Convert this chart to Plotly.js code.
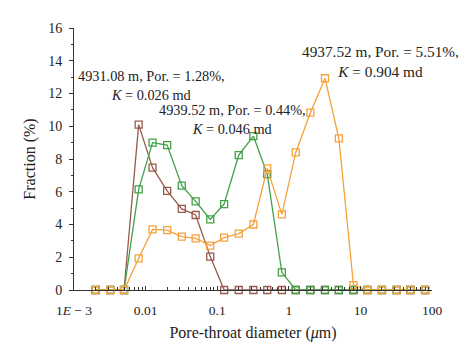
<!DOCTYPE html>
<html><head><meta charset="utf-8">
<script src="https://cdn.plot.ly/plotly-3.0.1.min.js"></script>
<style>html,body{margin:0;padding:0;background:#fff}#chart{width:474px;height:363px}</style>
</head><body><div id="chart"></div>
<script>
// Pore-throat diameter (µm)
const diameters = [0.002, 0.0032, 0.005, 0.008, 0.0125, 0.02, 0.032, 0.05, 0.08, 0.125, 0.2, 0.32, 0.5, 0.8, 1.25, 2, 3.2, 5, 8, 12.5, 20, 32, 50, 80];
// Fraction (%)
const frac4931 = [0, 0, 0, 10.1, 7.47, 6.05, 4.95, 4.58, 2.04, 0, 0, 0, 0, 0, 0, 0, 0, 0, 0, 0, 0, 0, 0, 0];
const frac4939 = [0, 0, 0, 6.15, 9.0, 8.85, 6.37, 5.41, 4.31, 5.25, 8.24, 9.4, 7.08, 1.08, 0, 0, 0, 0, 0, 0, 0, 0, 0, 0];
const frac4937 = [0, 0, 0, 1.93, 3.7, 3.66, 3.26, 3.15, 2.71, 3.2, 3.44, 4.0, 7.43, 4.62, 8.4, 10.83, 12.93, 9.26, 0.3, 0, 0, 0, 0, 0];
const xTickVals = [0.001, 0.01, 0.1, 1, 10, 100];
const xTickText = ['1<i>E</i> − 3', '0.01', '0.1', '1', '10', '100'];
const labels = [
  '4931.08 m, Por. = 1.28%,<br><i>K</i> = 0.026 md',
  '4939.52 m, Por. = 0.44%,<br><i>K</i> = 0.046 md',
  '4937.52 m, Por. = 5.51%,<br><i>K</i> = 0.904 md'
];

const serif = 'Liberation Serif, Times New Roman, serif';
function tr(y, color) {
  return {x: diameters, y: y, type: 'scatter', mode: 'lines+markers',
    line: {color: color, width: 1.3},
    marker: {symbol: 'square-open', size: 7, color: color, line: {width: 1.3}},
    cliponaxis: false, showlegend: false};
}
const data = [tr(frac4931, '#965b4c'), tr(frac4939, '#42a047'), tr(frac4937, '#f6a23c')];

const layout = {
  width: 474, height: 363,
  margin: {l: 74, r: 42, t: 28, b: 73},
  paper_bgcolor: '#fff', plot_bgcolor: '#fff',
  font: {family: serif, size: 13, color: '#222'},
  xaxis: {type: 'log', range: [-3, 2], tickvals: xTickVals, ticktext: xTickText,
    tickfont: {size: 13.5},
    ticks: 'inside', ticklen: 4, tickcolor: '#333', showline: true, linecolor: '#333', linewidth: 1,
    showgrid: false, zeroline: false, ticklabelstandoff: 8,
    minor: {ticks: 'inside', ticklen: 3, dtick: 'D1', tickcolor: '#333', showgrid: false},
    title: {text: 'Pore-throat diameter (<i>μ</i>m)', font: {size: 16}, standoff: 9}},
  yaxis: {range: [0, 16], dtick: 2, ticks: 'outside', ticklen: 4, tickcolor: '#333',
    tickfont: {size: 14},
    showline: true, linecolor: '#333', linewidth: 1, showgrid: false, zeroline: false,
    ticklabelstandoff: 4,
    minor: {ticks: 'outside', ticklen: 2, dtick: 1, tickcolor: '#333', showgrid: false},
    title: {text: 'Fraction (%)', font: {size: 16}, standoff: 8}},
  annotations: [
    {x: -1.911, y: 12.49, xref: 'x', yref: 'y', text: labels[0], showarrow: false, font: {size: 14.3}, align: 'center'},
    {x: -0.793, y: 10.41, xref: 'x', yref: 'y', text: labels[1], showarrow: false, font: {size: 14.3}, align: 'center'},
    {x: 1.274, y: 13.98, xref: 'x', yref: 'y', text: labels[2], showarrow: false, font: {size: 15.3}, align: 'center'}
  ]
};
Plotly.newPlot('chart', data, layout, {staticPlot: true, displayModeBar: false});
</script></body></html>
